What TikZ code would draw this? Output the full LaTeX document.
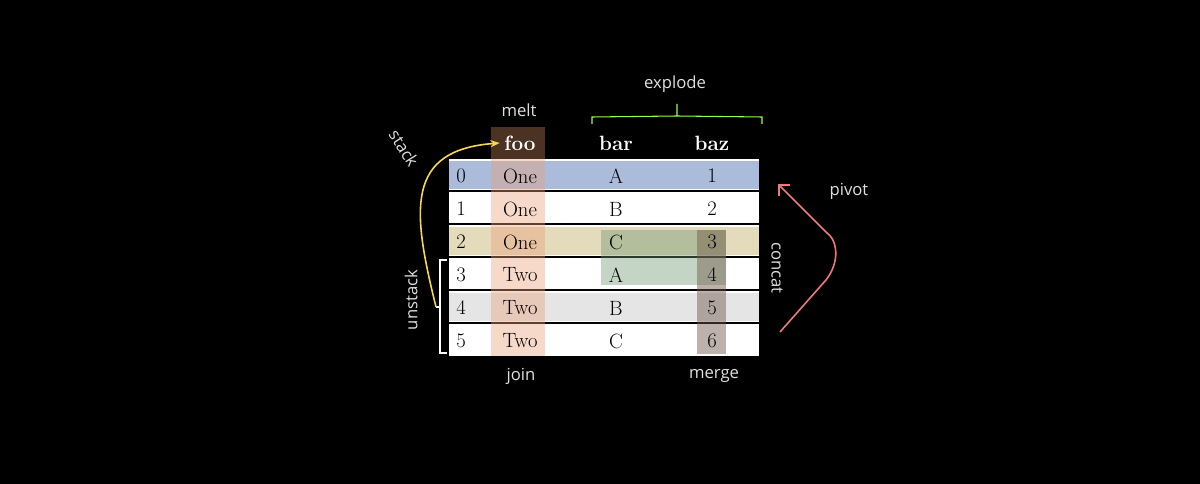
\documentclass[tikz,border=0pt]{standalone}
\usepackage{fontspec}
\setsansfont{Open Sans}
\usetikzlibrary{arrows.meta}
\definecolor{peach}{RGB}{236,160,120}
\definecolor{foohead}{RGB}{75,50,35}
\definecolor{hgreen}{RGB}{110,150,110}
\definecolor{hbrown}{RGB}{110,85,70}
\definecolor{syellow}{RGB}{245,215,80}
\definecolor{pred}{RGB}{240,120,120}
\definecolor{rowblue}{RGB}{170,188,218}
\definecolor{rowtan}{RGB}{228,218,188}
\begin{document}
\begin{tikzpicture}[x=0.75pt,y=-0.75pt,
  cell/.style={font=\fontsize{15.5}{16}\selectfont, text=black},
  head/.style={font=\fontsize{15.5}{16}\selectfont\bfseries, text=white},
  lab/.style={font=\sffamily\fontsize{12.5}{13}\selectfont, text=white!88!black}]
\fill[black] (0,0) rectangle (1200,484);
\useasboundingbox (0,0) rectangle (1200,484);
% table rows
\fill[white] (449,159) rectangle (759,356);
\fill[rowblue] (449,161) rectangle (759,189);
\fill[rowtan] (449,227) rectangle (759,255);
\fill[gray!20] (449,293) rectangle (759,321);
\foreach \y in {191.5,224.5,257.5,290.5,323.5}
  \draw[black,line width=1.5pt] (449,\y) -- (759,\y);
% highlights
\fill[peach,fill opacity=0.4] (491,159) rectangle (545,356);
\fill[foohead] (491,127) rectangle (545,159);
\fill[hgreen,fill opacity=0.4] (601,230) rectangle (726,285);
\fill[hbrown,fill opacity=0.45] (697,230) rectangle (726,354);
% headers
\node[head] (hfoo) at (520,143) {foo};
\node[head] (hbar) at (616,143) {bar};
\node[head] (hbaz) at (712,143) {baz};
% cells
\foreach \i/\f/\b/\z [count=\r from 0] in {0/One/A/1,1/One/B/2,2/One/C/3,3/Two/A/4,4/Two/B/5,5/Two/C/6}{
  \pgfmathsetmacro\yy{176+33*\r}
  \node[cell] (i\r) at (461,\yy) {\i};
  \node[cell] (f\r) at (520,\yy) {\f};
  \node[cell] (b\r) at (616,\yy) {\b};
  \node[cell] (z\r) at (712,\yy) {\z};
}
% labels
\node[lab] (melt) at (519,110) {melt};
\node[lab] (explode) at (675,84) {explode};
\node[lab] (join) at (521,376) {join};
\node[lab] (merge) at (714,376) {merge};
\node[lab] (pivot) at (849,191) {pivot};
\node[lab,rotate=-90] (concat) at (777,268) {concat};
\node[lab,rotate=-58] (stack) at (404,148) {stack};
\node[lab,rotate=90] (unstack) at (411,300) {unstack};
% explode brace
\draw[green!60!yellow!70!white,line width=0.8pt] (592,124) -- (592,117) -- (677,116) -- (677,104) (677,116) -- (762,117) -- (762,124);
% unstack bracket
\draw[white,line width=0.8pt] (447,260) -- (440,260) -- (440,353) -- (447,353);
\coordinate (us) at (436,307);
\draw[white,line width=0.8pt] (440,307) -- (us);
% stack arrow
\draw[syellow,line width=1.2pt,-{Stealth[length=7pt]}] (us) .. controls (412,210) and (405,150) .. (hfoo.west);
% pivot arrow
\coordinate (p1) at (780,332);
\coordinate (p2) at (778,184);
\draw[pred,line width=1.2pt,-{Straight Barb[length=6pt]}] (p1) -- (826,280) .. controls (840,262) and (838,240) .. (826,232) -- (p2);
\end{tikzpicture}
\end{document}
